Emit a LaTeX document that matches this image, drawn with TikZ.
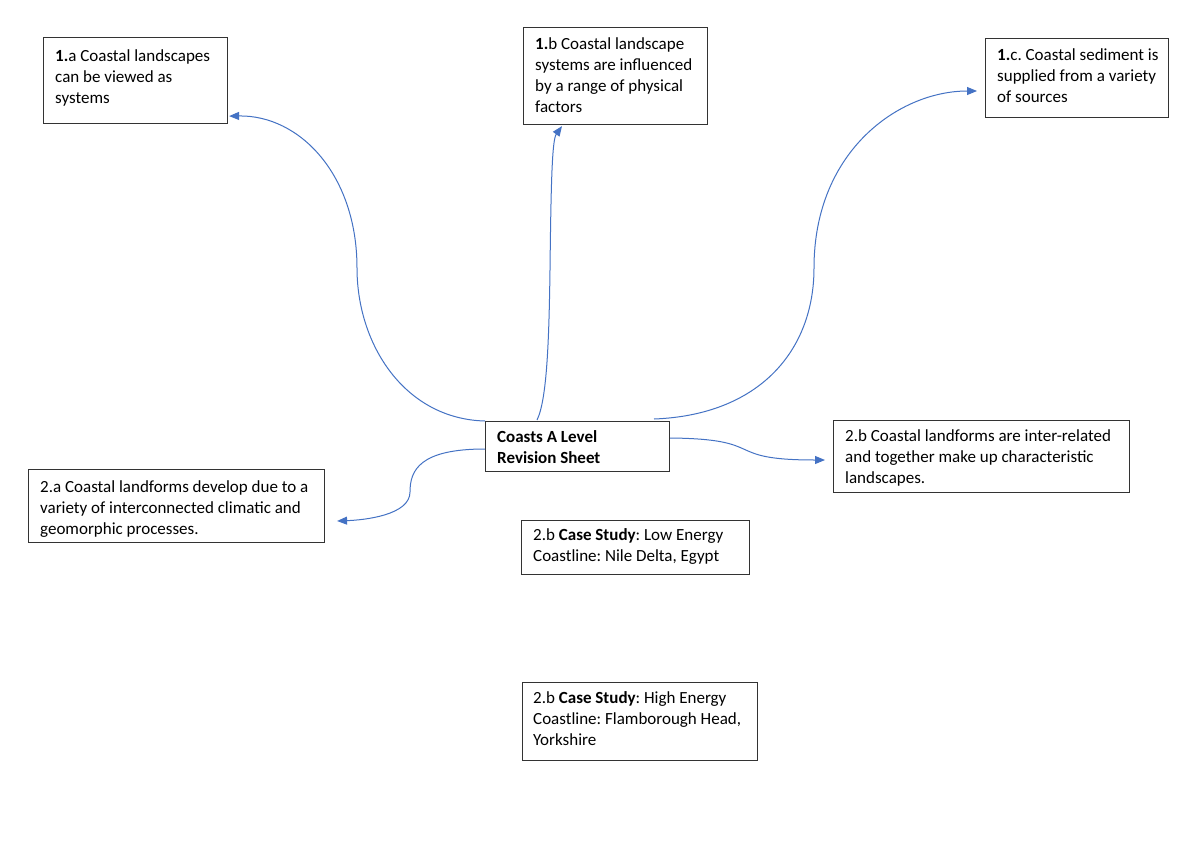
\documentclass[tikz,border=0pt]{standalone}
\usepackage{fontspec}
\setmainfont{Carlito}
\usetikzlibrary{arrows.meta,calc}
\definecolor{conn}{HTML}{4472C4}
\begin{document}
\begin{tikzpicture}[x=1pt,y=-1pt,
  box/.style={draw=black!80,line width=1.1pt,rectangle,inner sep=0pt,anchor=north west},
  txt/.style={anchor=north west,inner sep=0pt,align=left,font=\fontsize{17}{21}\selectfont\frenchspacing},
  link/.style={draw=conn,line width=1pt,-{Triangle[length=10pt,width=8pt]}}]
\useasboundingbox[fill=white] (0,0) rectangle (1200,849);
% boxes
\node[box,minimum width=184pt,minimum height=86pt] (a) at (43,37) {};
\node[box,minimum width=184pt,minimum height=97pt] (b) at (523,27) {};
\node[box,minimum width=183pt,minimum height=79pt] (cc) at (985,38) {};
\node[box,minimum width=184pt,minimum height=50pt] (m) at (485,421) {};
\node[box,minimum width=296pt,minimum height=72pt] (r) at (833,420) {};
\node[box,minimum width=296pt,minimum height=73pt] (l) at (28,469) {};
\node[box,minimum width=228pt,minimum height=54pt] (s1) at (521,520) {};
\node[box,minimum width=235pt,minimum height=78pt] (s2) at (522,682) {};
% texts
\node[txt] (ta) at ($(a.north west)+(12,24-14.7)$) {\strut\textbf{1.}a Coastal landscapes\\can be viewed as\\systems};
\node[txt] (tb) at ($(b.north west)+(12,22-14.7)$) {\strut\textbf{1.}b Coastal landscape\\systems are influenced\\by a range of physical\\factors};
\node[txt] (tc) at ($(cc.north west)+(12,22-14.7)$) {\strut\textbf{1.}c. Coastal sediment is\\supplied from a variety\\of sources};
\node[txt] (tm) at ($(m.north west)+(12,21-14.7)$) {\strut\textbf{Coasts A Level}\\\textbf{Revision Sheet}};
\node[txt] (tr) at ($(r.north west)+(12,21-14.7)$) {\strut 2.b Coastal landforms are inter-related\\and together make up characteristic\\landscapes.};
\node[txt] (tl) at ($(l.north west)+(12,23-14.7)$) {\strut 2.a Coastal landforms develop due to a\\variety of interconnected climatic and\\geomorphic processes.};
\node[txt] (ts1) at ($(s1.north west)+(12,20-14.7)$) {\strut 2.b \textbf{Case Study}: Low Energy\\Coastline: Nile Delta, Egypt};
\node[txt] (ts2) at ($(s2.north west)+(11,21-14.7)$) {\strut 2.b \textbf{Case Study}: High Energy\\Coastline: Flamborough Head,\\Yorkshire};
% connector end points
\coordinate (ea) at ($(a.south east)+(1,-8)$);
\coordinate (eb) at ($(b.south west)+(39,1)$);
\coordinate (ec) at ($(cc.north west)+(-8,53)$);
\coordinate (er) at ($(r.north west)+(-8,40)$);
\coordinate (el) at ($(l.north east)+(12,52)$);
% connectors
\draw[link] (m.north west) .. controls (405,419) and (357,345) .. (357,268)
  .. controls (357,175) and (300,115) .. (ea);
\draw[link] ($(m.north west)+(52,-1)$) .. controls (547,400) and (549,340) .. (550,270)
  .. controls (551,185) and (552,140) .. (eb);
\draw[link] ($(m.north west)+(169,-2)$) .. controls (760,415) and (814,350) .. (814,268)
  .. controls (814,150) and (900,91) .. (ec);
\draw[link] ($(m.north east)+(0,17)$) .. controls (770,439) and (720,460) .. (er);
\draw[link] ($(m.north west)+(0,28)$) .. controls (420,449) and (410,470) .. (410,492)
  .. controls (410,515) and (365,520) .. (el);
\end{tikzpicture}
\end{document}
